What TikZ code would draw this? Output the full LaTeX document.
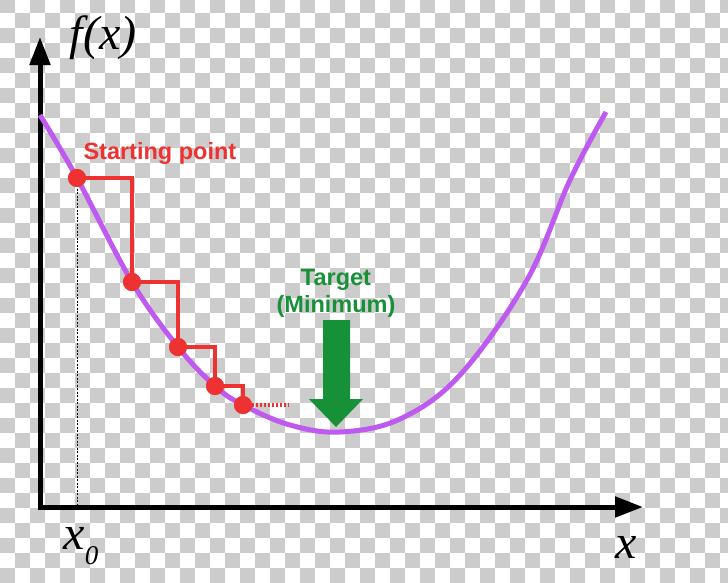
\documentclass[tikz,border=0pt]{standalone}
\usepackage{fontspec}
\setmainfont{Liberation Sans}
\newfontfamily\timesfont{Liberation Serif}
\usetikzlibrary{arrows.meta}

\definecolor{checkgray}{RGB}{204,204,204}
\definecolor{curvepurple}{RGB}{190,90,240}
\definecolor{stepred}{RGB}{238,50,50}
\definecolor{targetgreen}{RGB}{22,145,55}

\tikzset{
  axis/.style={line width=5pt,{Triangle[length=28pt,width=20pt]}-{Triangle[length=28pt,width=20pt]}},
  dot/.style={circle,fill=stepred,inner sep=0pt,minimum size=18pt},
  stepline/.style={stepred,line width=4pt},
  bigmath/.style={font=\timesfont\itshape\fontsize{48}{48}\selectfont},
  redlabel/.style={stepred,font=\bfseries\fontsize{23.5}{24}\selectfont},
  greenlabel/.style={targetgreen,align=center,font=\bfseries\fontsize{23.5}{27}\selectfont}
}

\begin{document}
\begin{tikzpicture}[x=1pt,y=-1pt]
      \useasboundingbox (0,0) rectangle (728,582);
      % checkered background
      \fill[white] (0,0) rectangle (728,582);
      \foreach \i in {0,...,24}
        \foreach \j in {0,...,19}{
          \fill[checkgray] (30*\i,30*\j-2) rectangle +(15,15);
          \fill[checkgray] (30*\i+15,30*\j+13) rectangle +(15,15);
        }
      % axes
      \coordinate (ytip)   at (40,37);
      \coordinate (origin) at (40,507);
      \coordinate (xtip)   at (643,507);
      \draw[axis] (ytip) -- (origin) -- (xtip);
      \node[bigmath] (fx) at (103,38) {f(x)};
      \node[bigmath] (xlabel) at (626,547) {x};
      \node[bigmath] (xzero) at (81,546) {x\raisebox{-15pt}{\fontsize{27}{27}\selectfont 0}};
      % the function
      \draw[curvepurple,line width=5pt] plot[smooth,tension=0.6] coordinates {
        (40,115) (77,178) (132,282) (178,347) (215,386) (243,405) (290,425)
        (340,432) (400,419) (460,375) (527,280) (570,180) (606,112)};
      % steps of the descent
      \node[dot] (p1) at (77,178) {};
      \node[dot] (p2) at (132,282) {};
      \node[dot] (p3) at (178,347) {};
      \node[dot] (p4) at (215,386) {};
      \node[dot] (p5) at (243,405) {};
      \coordinate (x0) at (77,505);
      \coordinate (tail) at (289,405);
      \draw[black,line width=0.8pt,dash pattern=on 2pt off 1.5pt] (p1.center) -- (x0);
      \draw[stepline] (p1.center) -| (p2.center);
      \draw[stepline] (p2.center) -| (p3.center);
      \draw[stepline] (p3.center) -| (p4.center);
      \draw[stepline] (p4.center) -| (p5.center);
      \draw[stepred,line width=4pt,dash pattern=on 1.5pt off 2.5pt] (p5.east) -- (tail);
      \node[dot] at (p1) {};
      \node[dot] at (p2) {};
      \node[dot] at (p3) {};
      \node[dot] at (p4) {};
      \node[dot] at (p5) {};
      \node[redlabel,anchor=west] (start) at (80,153) {Starting point};
      % target
      \node[greenlabel] (target) at (336,293) {Target\\(Minimum)};
      \fill[targetgreen] (323,320) -- (350,320) -- (350,399) -- (363,399)
        -- (336,427) -- (309,399) -- (323,399) -- cycle;
\end{tikzpicture}
\end{document}
